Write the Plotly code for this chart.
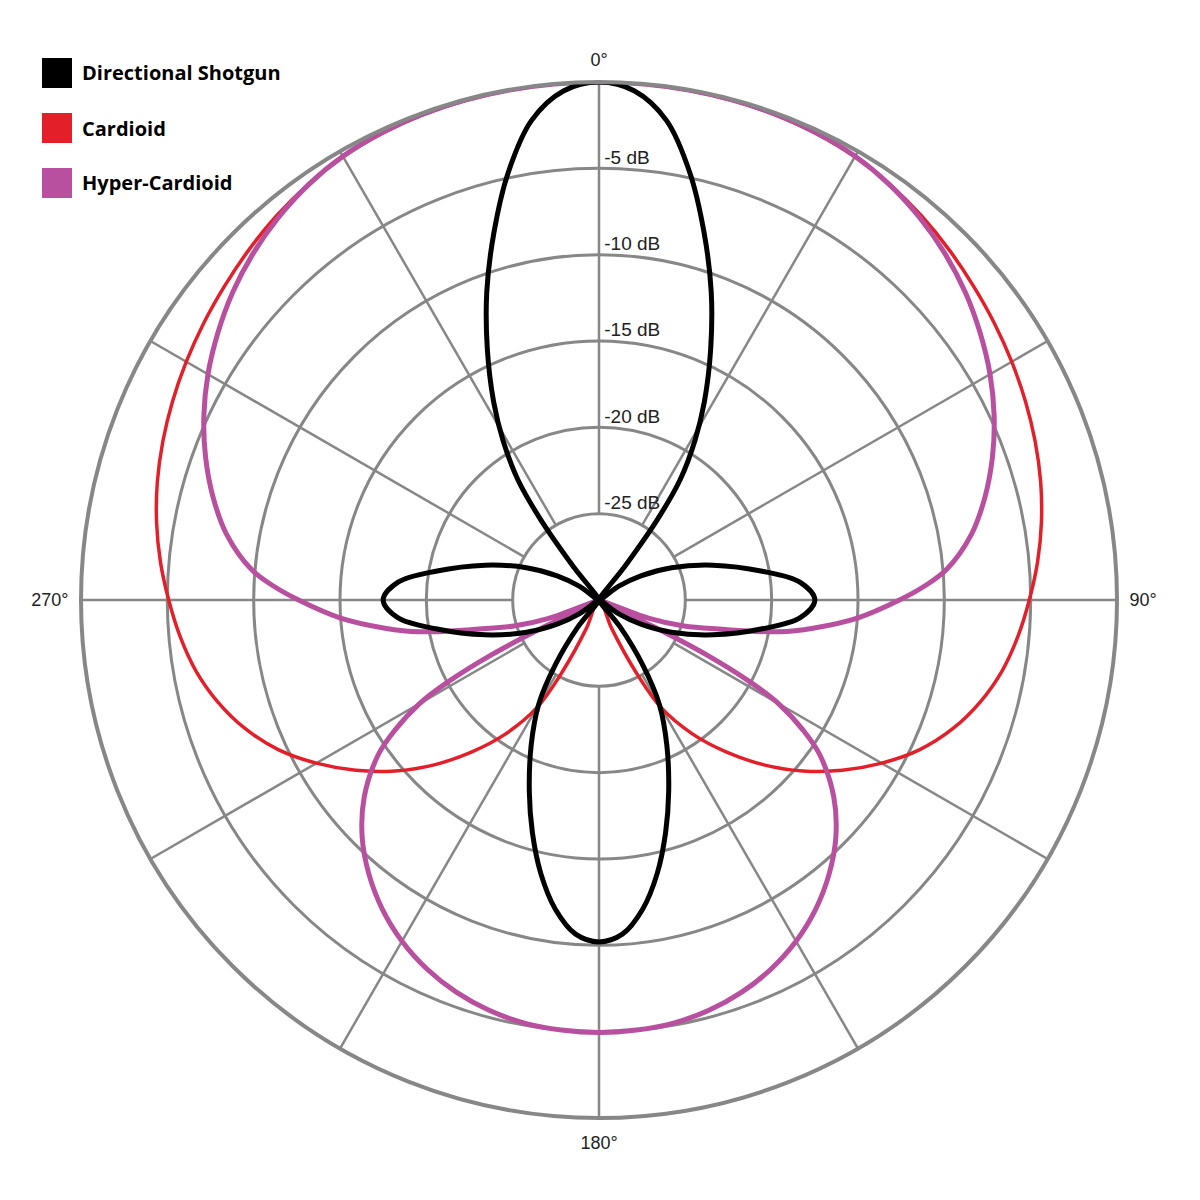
import plotly.graph_objects as go

# legend entries
names = ["Directional Shotgun", "Cardioid", "Hyper-Cardioid"]
colors = ["#000000", "#e3202a", "#b8509f"]

# right half of each pattern (0..180 deg clockwise from front), level in dB
# the left half is the mirror image
shotgun_theta = [0, 4, 8, 12, 16, 20, 24, 28, 31, 34, 36, 37.5, 46, 55, 60, 66, 73, 80, 85, 90,
                 95, 100, 107, 114, 120, 125, 133, 142, 146, 150, 155, 160, 164, 168, 172, 176, 180]
shotgun_db = [0, -0.45, -1.95, -4.7, -7.9, -11.0, -14.1, -17.0, -19.2, -21.6, -24.3, -27.5, -30, -28.6, -27.2, -25.4, -23.1, -20.4, -18.3, -17.5,
              -18.3, -20.4, -23.1, -25.4, -27.2, -28.6, -30, -28.0, -25.5, -23.0, -20.7, -18.2, -16.0, -13.8, -11.9, -10.6, -10.2]

cardioid_theta = [0, 5, 10, 15, 20, 25, 30, 35, 40, 45, 50, 55, 60, 65, 70, 75, 80, 85, 90,
                  95, 100, 105, 110, 115, 120, 125, 130, 135, 140, 145, 150, 153, 156, 180]
cardioid_db = [0, 0, -0.02, -0.05, -0.1, -0.2, -0.36, -0.62, -0.95, -1.32, -1.7, -2.05, -2.4, -2.75, -3.12, -3.52, -3.98, -4.5, -5.08,
               -5.65, -6.3, -7.15, -8.2, -9.5, -11.1, -12.8, -14.6, -16.5, -18.5, -20.5, -22.8, -25.4, -28.2, -30]

hyper_theta = [0, 5, 10, 15, 20, 25, 30, 35, 40, 45, 50, 55, 60, 65, 70, 75, 80, 85, 87.5, 90,
               94, 97.5, 100, 103.6, 107, 110, 114, 116, 117, 118.5, 120, 122.5, 125, 130, 135, 140,
               145, 150, 155, 160, 165, 170, 175, 180]
hyper_db = [0, 0, -0.01, -0.03, -0.07, -0.16, -0.33, -0.65, -1.1, -1.65, -2.3, -3.05, -3.85, -4.75, -5.75, -6.85, -8.1, -9.8, -11.1, -12.6,
            -15.0, -17.5, -19.4, -22.85, -24.85, -26.9, -30, -26.5, -23.0, -20.0, -18.0, -16.0, -14.4, -12.25, -10.6, -9.27,
            -8.13, -7.18, -6.42, -5.83, -5.4, -5.12, -5.0, -4.95]

db_ticks = [-25, -20, -15, -10, -5]
spoke_angles = [0, 30, 60, 90, 120, 150, 180, 210, 240, 270, 300, 330]
angle_labels = ["0°", "90°", "180°", "270°"]

GRID = "#878787"


def full_loop(theta, db):
    # mirror right half onto the left, start the path at a null so the join sits in the centre
    t = list(theta) + [360 - v for v in reversed(theta[1:-1])]
    d = list(db) + list(reversed(db[1:-1]))
    if db[-1] == -30:
        start = len(theta) - 1
    else:
        start = d.index(-30)
    t = t[start:] + t[:start] + [t[start]]
    d = d[start:] + d[:start] + [d[start]]
    return t, d


fig = go.Figure()

# spokes between the -25 dB ring and the rim
spoke_r, spoke_t = [], []
for a in spoke_angles:
    spoke_r += [db_ticks[0], 0, None]
    spoke_t += [a, a, None]
fig.add_trace(go.Scatterpolar(r=spoke_r, theta=spoke_t, mode="lines",
                              line=dict(color=GRID, width=2.5), hoverinfo="skip"))

series = [(cardioid_theta, cardioid_db, colors[1], 3.5),
          (hyper_theta, hyper_db, colors[2], 5),
          (shotgun_theta, shotgun_db, colors[0], 5)]
for th, db, col, w in series:
    t, d = full_loop(th, db)
    fig.add_trace(go.Scatterpolar(r=d, theta=t, mode="lines",
                                  line=dict(color=col, width=w, shape="spline", smoothing=1)))

fig.add_trace(go.Scatterpolar(r=db_ticks, theta=[0] * len(db_ticks), mode="text",
                              text=[f"\u00a0{v} dB" for v in db_ticks], textposition="top right",
                              textfont=dict(family="Liberation Sans", size=19, color="#222"),
                              cliponaxis=False, hoverinfo="skip"))

fig.update_layout(
    width=1200, height=1200,
    margin=dict(l=0, r=0, t=0, b=0),
    paper_bgcolor="white",
    showlegend=False,
    polar=dict(
        domain=dict(x=[81 / 1200, 1117 / 1200], y=[82 / 1200, 1118 / 1200]),
        bgcolor="white",
        radialaxis=dict(range=[-30, 0], tickvals=db_ticks, showticklabels=False, ticks="",
                        showline=False, gridcolor=GRID, gridwidth=2.5),
        angularaxis=dict(rotation=90, direction="clockwise", showgrid=False,
                         showline=True, linecolor=GRID, linewidth=4,
                         tickvals=[0, 90, 180, 270], ticktext=angle_labels,
                         ticks="outside", ticklen=7, tickcolor="rgba(0,0,0,0)",
                         tickfont=dict(family="Liberation Sans", size=18, color="#222")),
    ),
)

# legend: coloured squares with bold names
for i, (n, c) in enumerate(zip(names, colors)):
    yc = 73 + 55 * i
    fig.add_shape(type="rect", xref="paper", yref="paper",
                  x0=42 / 1200, x1=72 / 1200, y0=1 - (yc - 15) / 1200, y1=1 - (yc + 15) / 1200,
                  fillcolor=c, line=dict(width=0))
    fig.add_annotation(xref="paper", yref="paper", x=80 / 1200, y=1 - yc / 1200,
                       xanchor="left", yanchor="middle", showarrow=False,
                       text=f"<b>{n}</b>", font=dict(family="Open Sans", size=20, color="#000"))

fig.write_html("out.html", config={"displayModeBar": False},
               post_script="document.body.style.margin='0px';")
